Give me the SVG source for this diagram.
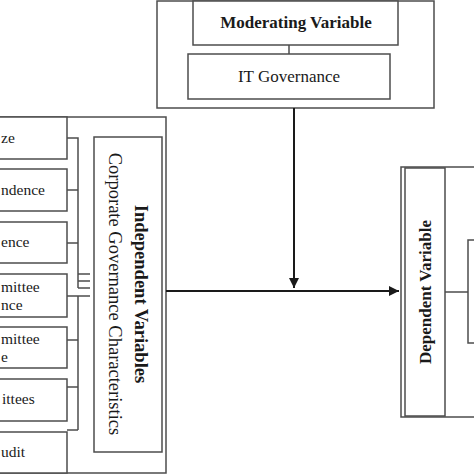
<svg xmlns="http://www.w3.org/2000/svg" width="474" height="474" viewBox="0 0 474 474">
<style>
.box{fill:#fff;stroke:#4d4d4d;stroke-width:1.5}
.ln{fill:none;stroke:#4d4d4d;stroke-width:1.5}
.arr{fill:none;stroke:#1a1a1a;stroke-width:2}
.t{font-family:"Liberation Serif","Times New Roman",serif;fill:#1a1a1a}
.s{font-size:15.5px}
.b{font-weight:bold}
</style>
<defs>
<marker id="ah" viewBox="0 0 10 10" refX="10" refY="5" markerWidth="5" markerHeight="5" orient="auto" markerUnits="strokeWidth">
<path d="M0,0 L10,5 L0,10 z" fill="#1a1a1a"/>
</marker>
</defs>
<rect width="474" height="474" fill="#fff"/>

<g id="moderating">
<rect class="box" x="157" y="1" width="277" height="107"/>
<rect class="box" x="193" y="1" width="205" height="44"/>
<text class="t b" x="296" y="28" font-size="17" text-anchor="middle">Moderating Variable</text>
<rect class="box" x="188" y="54" width="202" height="45"/>
<text class="t" x="289" y="82" font-size="17" text-anchor="middle">IT Governance</text>
</g>

<g id="independent">
<rect class="box" x="-5" y="117" width="171" height="356"/>
<rect class="box" x="94" y="137" width="68" height="315"/>
<text class="t b" font-size="18.5" text-anchor="middle" transform="translate(135,294) rotate(90)">Independent Variables</text>
<text class="t" font-size="18.5" text-anchor="middle" transform="translate(109,294) rotate(90)">Corporate Governance Characteristics</text>
</g>

<g id="n1"><rect class="box" x="-10" y="117" width="77" height="42"/><text class="t s" x="1" y="143">ze</text></g>
<g id="n2"><rect class="box" x="-10" y="169" width="77" height="42"/><text class="t s" x="1" y="195">ndence</text></g>
<g id="n3"><rect class="box" x="-10" y="222" width="77" height="41"/><text class="t s" x="1" y="247">ence</text></g>
<g id="n4"><rect class="box" x="-10" y="274" width="77" height="43"/><text class="t s" x="1" y="292">mittee</text><text class="t s" x="1" y="310">nce</text></g>
<g id="n5"><rect class="box" x="-10" y="327" width="77" height="41"/><text class="t s" x="1" y="344">mittee</text><text class="t s" x="1" y="362">e</text></g>
<g id="n6"><rect class="box" x="-10" y="379" width="77" height="42"/><text class="t s" x="2" y="404">ittees</text></g>
<g id="n7"><rect class="box" x="-10" y="432" width="77" height="41"/><text class="t s" x="1" y="457">udit</text></g>

<g id="dependent">
<rect class="box" x="401" y="167" width="80" height="250"/>
<rect class="box" x="405" y="168" width="40" height="248"/>
<text class="t b" font-size="17" text-anchor="middle" transform="translate(431,292) rotate(-90)">Dependent Variable</text>
<rect class="box" x="468" y="240" width="20" height="103"/>
</g>

<g id="connectors">
<path class="ln" d="M289,45 V54"/>
<path class="ln" d="M67,138 H78 V288 M67,190 H78 M67,243 H78 M78,274 H90 M78,281 H90 M78,288 H90 M67,296 H90 M78,296 V430 M67,340 H78 M67,387 H78 M67,430 H78"/>
<path class="ln" d="M445,292 H468"/>
<path class="arr" d="M294,108 V288" marker-end="url(#ah)"/>
<path class="arr" d="M166,291 H399" marker-end="url(#ah)"/>
</g>
</svg>
